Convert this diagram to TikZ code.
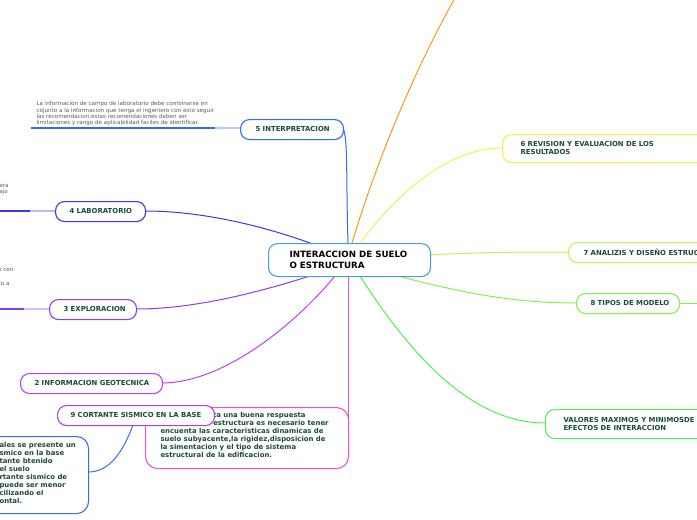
\documentclass[tikz,border=0pt]{standalone}
\usepackage{fontspec}
\setmainfont{DejaVu Sans}
\begin{document}
\begin{tikzpicture}[x=1pt,y=-1pt,
  tb/.style={rounded corners=9pt,draw,line width=1.1pt,fill=white,inner sep=0,anchor=north west},
  lbl/.style={font=\bfseries\fontsize{6.9}{8}\selectfont,text=txt,anchor=west,align=left},
  note/.style={font=\fontsize{5.6}{6.3}\selectfont,text=gray!70!black,anchor=north west,align=left},
  con/.style={line width=1pt}]
\definecolor{txt}{HTML}{1B4A3C}
\definecolor{cblue}{HTML}{4A9ED8}
\definecolor{c5}{HTML}{2E6CF0}
\definecolor{c4}{HTML}{3B36F0}
\definecolor{c3}{HTML}{8A3CF0}
\definecolor{c2}{HTML}{C040F0}
\definecolor{cp}{HTML}{F050D0}
\definecolor{c9}{HTML}{B040E0}
\definecolor{cb}{HTML}{3A6CF0}
\definecolor{c6}{HTML}{F5EE50}
\definecolor{c7}{HTML}{C8F050}
\definecolor{c8}{HTML}{80F050}
\definecolor{cv}{HTML}{50F050}
\definecolor{cor}{HTML}{F59A20}
\useasboundingbox (0,0) rectangle (697,520);
\clip (0,0) rectangle (697,520);
\coordinate (ctop) at (348,243);
\coordinate (orEnd) at (455,-2);
\draw[con,cor] (352,243) .. controls (380,150) and (420,60) .. (orEnd);
\draw[con,c5] (ctop) .. controls (346,180) and (348,135) .. (343,129);
\draw[con,c4] (310,243) .. controls (260,225) and (200,211) .. (145,211);
\draw[con,c3] (310,276) .. controls (250,295) and (190,309) .. (136,309);
\draw[con,c2] (335,276) .. controls (290,330) and (220,383) .. (162,383);
\draw[con,cp] (348,276) -- (348,440);
\draw[con,c6] (360,243) .. controls (400,190) and (450,148) .. (502,148);
\draw[con,c7] (430,255) .. controls (480,252) and (530,252) .. (568,252);
\draw[con,c8] (398,276) .. controls (470,295) and (520,303) .. (576,303);
\draw[con,cv] (360,276) .. controls (420,370) and (480,423) .. (545,423);
\draw[con,cb] (133,425) .. controls (120,460) and (105,472) .. (88,472);
\draw[line width=1.3pt,c5] (31,128) -- (215,128);
\draw[line width=1.3pt,c5!35] (215,128) -- (240,128);
\draw[line width=1.3pt,c4] (0,211) -- (30,211);
\draw[line width=1.3pt,c4!35] (30,211) -- (55,211);
\draw[line width=1.3pt,c3] (0,309) -- (24,309);
\draw[line width=1.3pt,c3!35] (24,309) -- (49,309);
\draw[con,c8] (679,303) -- (697,303);
\node[note] (n5) at (33,98) {La informacion de campo de laboratorio debe combinarse en\\cojunto a la informacion que tenga el ingeniero con esto seguir\\las recomendacion,estas recomendaciones deben ser\\limitaciones y rango de aplicabilidad faciles de identificar.};
\node[note,anchor=north east] (n4) at (12,181) {nera\\bajo};
\node[note,anchor=north east] (n3a) at (17,265) {es con};
\node[note,anchor=north east] (n3b) at (13,278) {nto a};
\node[tb,draw=cblue,minimum width=162,minimum height=33] (c) at (268,243) {};
\node[font=\bfseries\fontsize{8.7}{10.5}\selectfont,anchor=west,align=left] (ct) at (286,260) {INTERACCION DE SUELO\\O ESTRUCTURA};
\node[tb,draw=c5,minimum width=103,minimum height=20] (b5) at (240,119) {};
\node[lbl] at (252,129) {5 INTERPRETACION};
\node[tb,draw=c4,minimum width=90,minimum height=20] (b4) at (55,201) {};
\node[lbl] at (66,211) {4 LABORATORIO};
\node[tb,draw=c3,minimum width=87,minimum height=20] (b3) at (49,299) {};
\node[lbl] at (60,309) {3 EXPLORACION};
\node[tb,draw=c2,minimum width=142,minimum height=20] (b2) at (20,373) {};
\node[lbl] at (31,383) {2 INFORMACION GEOTECNICA};
\node[tb,draw=cp,minimum width=203,minimum height=61,rounded corners=12pt] (bp) at (145,407) {};
\node[lbl,anchor=north west] (tp) at (157,409) {Para que exista una buena respuesta\\sismica de la estructura es necesario tener\\encuenta las caracteristicas dinamicas de\\suelo subyacente,la rigidez,disposicion de\\la simentacion y el tipo de sistema\\estructural de la edificacion.};
\node[tb,draw=c9,minimum width=157,minimum height=20] (b9) at (57,405) {};
\node[lbl] at (67,415) {9 CORTANTE SISMICO EN LA BASE};
\node[tb,draw=cb,minimum width=120,minimum height=77,rounded corners=12pt] (bb) at (-32,436) {};
\node[lbl,anchor=north west] (tb9) at (-4,439) {ales se presente un\\smico en la base\\tante btenido\\el suelo\\rtante sismico de\\puede ser menor\\cilizando el\\ontal.};
\node[tb,draw=c6,minimum width=220,minimum height=28] (b6) at (502,134) {};
\node[lbl] at (517,148) {6 REVISION Y EVALUACION DE LOS\\RESULTADOS};
\node[tb,draw=c7,minimum width=150,minimum height=20] (b7) at (568,242) {};
\node[lbl] at (580,252) {7 ANALIZIS Y DISEÑO ESTRUCTURAL};
\node[tb,draw=c8,minimum width=103,minimum height=20] (b8) at (576,293) {};
\node[lbl] at (587,303) {8 TIPOS DE MODELO};
\node[tb,draw=cv,minimum width=180,minimum height=29] (bv) at (545,409) {};
\node[lbl] at (560,423.5) {VALORES MAXIMOS Y MINIMOSDE\\EFECTOS DE INTERACCION};
\end{tikzpicture}
\end{document}
